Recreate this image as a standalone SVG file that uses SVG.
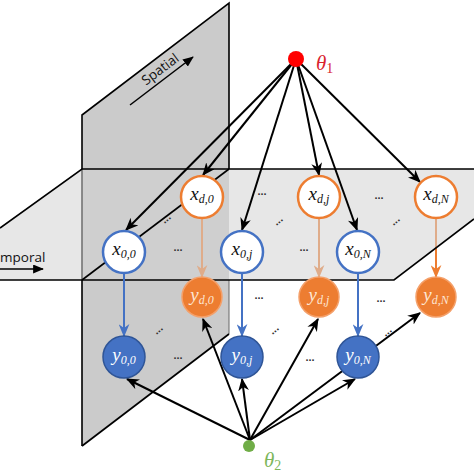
<svg xmlns="http://www.w3.org/2000/svg" width="474" height="474" viewBox="0 0 474 474">
<defs>
<style>
.edge{fill:none;stroke:#000;stroke-width:1.6}
.ka{fill:none;stroke:#000;stroke-width:2;marker-end:url(#ak)}
.ba{fill:none;stroke:#4472c4;stroke-width:2;marker-end:url(#ab)}
.oa{fill:none;stroke:#ed7d31;stroke-width:2;marker-end:url(#ao)}
.xo{fill:#fff;stroke:#4472c4;stroke-width:2.5}
.xd{fill:#fff;stroke:#ed7d31;stroke-width:2.5}
.yo{fill:#4472c4;stroke:#2f5597;stroke-width:1.5}
.yd{fill:#ed7d31;stroke:#f4a06a;stroke-width:1.5}
.lbl{font-family:"Liberation Serif","DejaVu Serif",serif;font-style:italic;font-size:19px;text-anchor:middle}
.sub{font-size:12px}
.dk{fill:#111}
.wt{fill:#fff}
.pk{fill:#fde6d4}
.dots{font-family:"Liberation Sans",Arial,sans-serif;font-size:11px;font-weight:bold;fill:#333;text-anchor:middle}
.sans{font-family:"Open Sans","Liberation Sans",Arial,sans-serif;font-size:13.5px;fill:#111}
</style>
<marker id="ak" viewBox="0 0 12 10" refX="11" refY="5" markerWidth="13" markerHeight="11" orient="auto" markerUnits="userSpaceOnUse"><path d="M0,0 L12,5 L0,10 L3.5,5 z" fill="#000"/></marker>
<marker id="ab" viewBox="0 0 12 10" refX="11" refY="5" markerWidth="13" markerHeight="11" orient="auto" markerUnits="userSpaceOnUse"><path d="M0,0 L12,5 L0,10 L3.5,5 z" fill="#4472c4"/></marker>
<marker id="ao" viewBox="0 0 12 10" refX="11" refY="5" markerWidth="13" markerHeight="11" orient="auto" markerUnits="userSpaceOnUse"><path d="M0,0 L12,5 L0,10 L3.5,5 z" fill="#ed7d31"/></marker>
<marker id="as" viewBox="0 0 12 10" refX="11" refY="5" markerWidth="11" markerHeight="9" orient="auto" markerUnits="userSpaceOnUse"><path d="M0,0 L12,5 L0,10 z" fill="#000"/></marker>
</defs>
<rect width="474" height="474" fill="#fff"/>

<g id="vertical-plane">
<polygon points="82,115 229,3 229,334 82,446" fill="#cbcbcb"/>
<path class="edge" d="M82,446 L82,115 L229,3 L229,169"/>
<path d="M229,280 L229,334" stroke="#666" stroke-width="1" fill="none"/>
<path class="edge" d="M82,446 L229,334"/>
<line x1="130" y1="105" x2="193" y2="57" stroke="#000" stroke-width="1.5" marker-end="url(#as)"/>
<text class="sans" transform="translate(163,73) rotate(-37)" text-anchor="middle">Spatial</text>
</g>

<g id="back-arrows">
<line class="oa" x1="202" y1="219" x2="202" y2="277"/>
<line class="oa" x1="319" y1="219" x2="319" y2="277"/>
<line class="oa" x1="436" y1="219" x2="436" y2="277"/>
</g>

<g id="horizontal-plane">
<polygon points="0,228 82,169 474,169 474,219 394,280 0,280" fill="#d4d4d4" fill-opacity="0.55"/>
<path class="edge" d="M0,228 L82,169 L474,169"/>
<path class="edge" d="M0,280 L394,280 L474,219"/>
<path class="edge" d="M82,280 L229,169"/>
<text class="sans" x="0" y="262">mporal</text>
<line x1="0" y1="269" x2="43" y2="269" stroke="#000" stroke-width="1.6" marker-end="url(#as)"/>
</g>

<g id="connectors">
<line class="ka" x1="296" y1="59" x2="126" y2="230"/>
<line class="ka" x1="296" y1="59" x2="203" y2="175"/>
<line class="ka" x1="296" y1="59" x2="242" y2="230"/>
<line class="ka" x1="296" y1="59" x2="319" y2="175"/>
<line class="ka" x1="296" y1="59" x2="357" y2="230"/>
<line class="ka" x1="296" y1="59" x2="420" y2="182"/>
<line class="ba" x1="124" y1="274" x2="124" y2="336"/>
<line class="ba" x1="242" y1="274" x2="242" y2="336"/>
<line class="ba" x1="358" y1="274" x2="358" y2="336"/>
<line class="ka" x1="250" y1="440" x2="127" y2="379"/>
<line class="ka" x1="250" y1="440" x2="203" y2="319"/>
<line class="ka" x1="250" y1="440" x2="242" y2="379"/>
<line class="ka" x1="250" y1="440" x2="318" y2="319"/>
<line class="ka" x1="250" y1="440" x2="355" y2="379"/>
<line class="ka" x1="250" y1="440" x2="420" y2="313"/>
</g>

<g id="theta1"><circle cx="296" cy="59" r="8" fill="#f00"/>
<text x="316" y="70" font-family="Liberation Serif,serif" font-size="21" fill="#d9232e"><tspan font-style="italic">θ</tspan><tspan font-size="14" dy="3">1</tspan></text></g>
<g id="theta2"><circle cx="249" cy="446" r="6" fill="#70ad47"/>
<text x="264" y="467" font-family="Liberation Serif,serif" font-size="21" fill="#7db65a"><tspan font-style="italic">θ</tspan><tspan font-size="14" dy="3">2</tspan></text></g>

<g id="y_d0"><circle class="yd" cx="202" cy="297" r="20"/><text class="lbl pk" x="202" y="301">y<tspan class="sub" dy="3">d,0</tspan></text></g>
<g id="y_dj"><circle class="yd" cx="319" cy="297" r="20"/><text class="lbl pk" x="319" y="301">y<tspan class="sub" dy="3">d,j</tspan></text></g>
<g id="y_dN"><circle class="yd" cx="436" cy="297" r="20"/><text class="lbl pk" x="436" y="301">y<tspan class="sub" dy="3">d,N</tspan></text></g>

<g id="x_d0"><circle class="xd" cx="202" cy="197" r="21"/><text class="lbl dk" x="202" y="200">x<tspan class="sub" dy="3">d,0</tspan></text></g>
<g id="x_dj"><circle class="xd" cx="319" cy="197" r="21"/><text class="lbl dk" x="319" y="200">x<tspan class="sub" dy="3">d,j</tspan></text></g>
<g id="x_dN"><circle class="xd" cx="436" cy="197" r="21"/><text class="lbl dk" x="436" y="200">x<tspan class="sub" dy="3">d,N</tspan></text></g>

<g id="x_00"><circle class="xo" cx="124" cy="252" r="21"/><text class="lbl dk" x="124" y="255">x<tspan class="sub" dy="3">0,0</tspan></text></g>
<g id="x_0j"><circle class="xo" cx="242" cy="252" r="21"/><text class="lbl dk" x="242" y="255">x<tspan class="sub" dy="3">0,j</tspan></text></g>
<g id="x_0N"><circle class="xo" cx="358" cy="252" r="21"/><text class="lbl dk" x="358" y="255">x<tspan class="sub" dy="3">0,N</tspan></text></g>

<g id="y_00"><circle class="yo" cx="124" cy="357" r="21"/><text class="lbl wt" x="124" y="361">y<tspan class="sub" dy="3">0,0</tspan></text></g>
<g id="y_0j"><circle class="yo" cx="242" cy="357" r="21"/><text class="lbl wt" x="242" y="361">y<tspan class="sub" dy="3">0,j</tspan></text></g>
<g id="y_0N"><circle class="yo" cx="358" cy="357" r="21"/><text class="lbl wt" x="358" y="361">y<tspan class="sub" dy="3">0,N</tspan></text></g>

<g id="ellipses">
<text class="dots" x="262" y="195">...</text>
<text class="dots" x="379" y="199">...</text>
<text class="dots" x="178" y="251">...</text>
<text class="dots" x="304" y="251">...</text>
<text class="dots" x="259" y="299">...</text>
<text class="dots" x="381" y="302">...</text>
<text class="dots" x="178" y="359">...</text>
<text class="dots" x="310" y="361">...</text>
<text class="dots" transform="translate(168,221) rotate(-40)">...</text>
<text class="dots" transform="translate(280,223) rotate(-40)">...</text>
<text class="dots" transform="translate(397,223) rotate(-40)">...</text>
<text class="dots" transform="translate(160,332) rotate(-40)">...</text>
<text class="dots" transform="translate(276,332) rotate(-40)">...</text>
<text class="dots" transform="translate(389,334) rotate(-40)">...</text>
</g>
</svg>
